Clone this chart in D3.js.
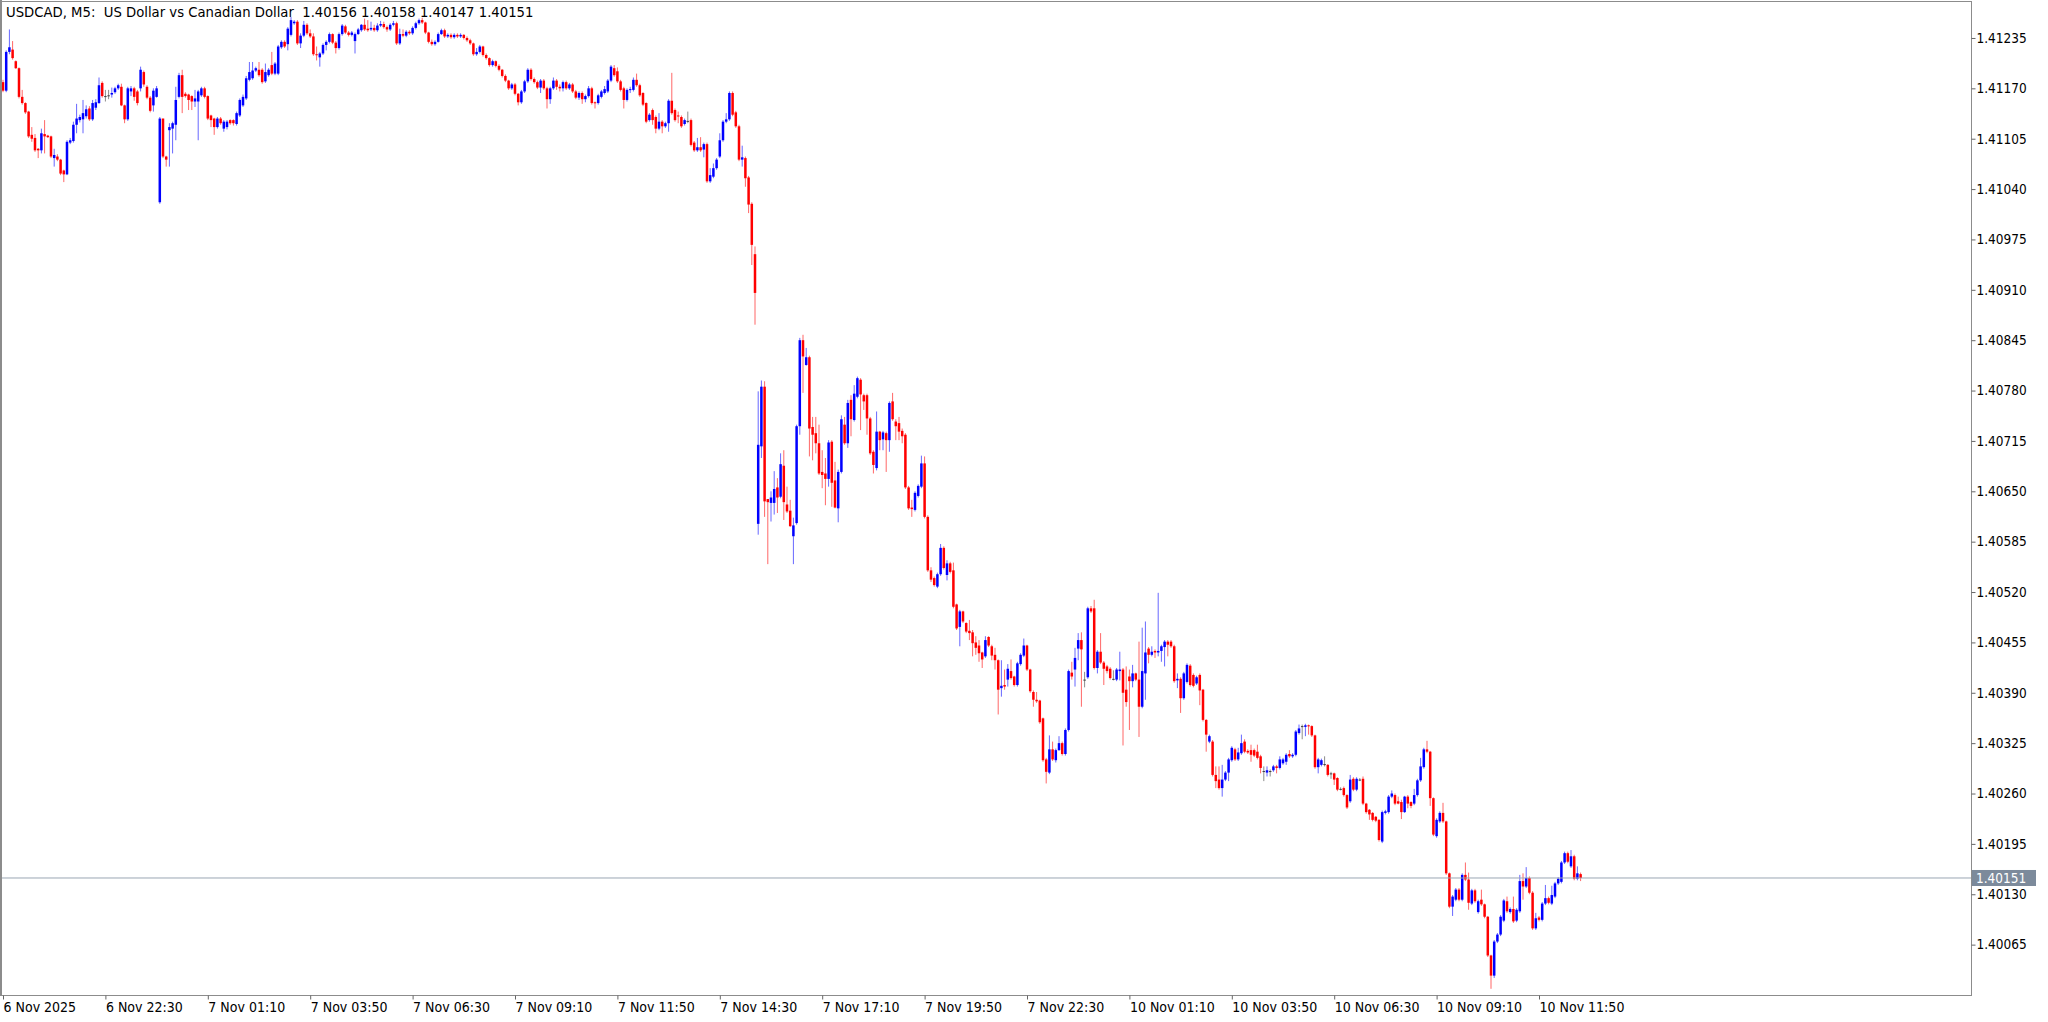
<!DOCTYPE html>
<html><head><meta charset="utf-8">
<script src="https://cdn.jsdelivr.net/npm/d3@7"></script>
<style>html,body{margin:0;padding:0;background:#fff;overflow:hidden}</style>
</head><body><svg id="c" width="2048" height="1022"></svg>
<script>
// USDCAD M5 candles. Values are in points (0.00001) above 1.40000.
const PRICE_BASE = 1.40000, POINT = 0.00001;
const opens = [
1178,1167,1217,1220,1205,1196,1159,1151,1140,1110,1106,1092,1090,1111,1109,1108,1080,1082,1078,1064,
1059,1100,1102,1123,1129,1130,1134,1144,1130,1145,1151,1177,1160,1161,1162,1165,1170,1172,1148,1130,
1166,1170,1166,1170,1191,1172,1158,1148,1159,1023,1131,1082,1116,1118,1123,1159,1187,1163,1162,1160,
1153,1153,1161,1170,1160,1135,1131,1120,1131,1118,1120,1129,1129,1124,1135,1148,1157,1181,1183,1193,
1194,1194,1179,1187,1200,1189,1189,1223,1230,1227,1239,1254,1256,1228,1238,1252,1241,1237,1214,1210,
1215,1226,1230,1240,1229,1222,1240,1250,1242,1239,1231,1240,1245,1252,1247,1246,1248,1245,1251,1253,
1249,1246,1252,1254,1228,1240,1238,1243,1241,1248,1254,1258,1255,1242,1230,1227,1230,1240,1245,1237,
1239,1236,1239,1237,1239,1235,1232,1228,1214,1217,1224,1213,1209,1200,1205,1199,1194,1186,1180,1170,
1175,1163,1152,1166,1179,1194,1182,1178,1171,1180,1170,1156,1170,1180,1172,1170,1178,1170,1175,1166,
1158,1164,1156,1160,1170,1152,1151,1159,1164,1166,1180,1196,1192,1179,1170,1155,1168,1168,1181,1174,
1164,1151,1129,1142,1133,1118,1127,1121,1125,1154,1142,1135,1133,1124,1128,1129,1100,1090,1094,1091,
1098,1050,1056,1067,1082,1103,1127,1130,1164,1139,1121,1078,1080,1055,1021,956,608,708,785,640,
635,635,655,643,683,633,625,592,609,734,845,813,823,733,725,712,675,673,666,714,
664,628,675,736,712,768,742,772,794,774,774,744,701,680,727,717,725,716,766,740,
738,728,723,655,629,626,644,656,686,617,548,538,527,543,577,542,557,548,504,475,
495,480,470,468,455,451,442,437,462,450,439,432,396,400,407,418,411,400,427,438,
451,420,391,381,380,357,304,287,317,303,316,325,311,342,416,420,447,458,407,410,
499,499,422,443,429,424,421,408,407,418,420,394,411,405,415,407,372,415,447,439,
444,442,444,449,456,456,450,406,408,383,404,425,413,402,413,394,355,327,327,284,
278,267,278,287,303,317,304,312,327,315,316,316,314,308,289,287,289,290,295,293,
299,301,311,308,310,338,347,346,348,347,335,294,297,298,297,286,286,280,266,267,
258,250,279,265,278,279,247,239,235,230,226,198,235,236,256,258,250,249,236,256,
249,247,258,277,294,317,314,254,205,224,235,224,157,114,123,136,123,155,149,118,
135,107,123,117,101,51,25,69,78,96,121,107,111,96,108,147,140,151,132,86,
100,97,118,125,118,127,144,146,171,183,166,179,150,156];
const highs = [
1181,1219,1246,1231,1206,1197,1168,1152,1141,1120,1111,1093,1118,1129,1110,1109,1092,1085,1079,1065,
1103,1106,1127,1150,1136,1155,1148,1147,1155,1156,1184,1179,1168,1168,1171,1172,1176,1176,1149,1172,
1173,1172,1168,1198,1193,1174,1160,1170,1173,1133,1131,1083,1125,1127,1172,1190,1194,1165,1163,1161,
1168,1168,1172,1172,1161,1136,1132,1133,1133,1129,1129,1130,1130,1140,1157,1162,1186,1204,1204,1198,
1204,1196,1202,1196,1217,1204,1226,1232,1232,1249,1262,1258,1258,1241,1257,1254,1246,1241,1224,1217,
1228,1232,1242,1241,1231,1242,1253,1252,1244,1244,1242,1248,1253,1260,1258,1256,1252,1254,1257,1256,
1251,1254,1257,1256,1247,1246,1245,1245,1250,1256,1260,1261,1256,1243,1233,1232,1242,1247,1247,1241,
1241,1241,1241,1241,1240,1237,1234,1229,1222,1226,1225,1215,1210,1207,1206,1201,1195,1188,1181,1177,
1177,1164,1168,1181,1196,1196,1184,1180,1182,1182,1172,1172,1184,1182,1175,1180,1180,1177,1177,1168,
1166,1166,1162,1173,1172,1153,1163,1168,1173,1182,1200,1200,1197,1181,1172,1170,1172,1184,1189,1176,
1165,1152,1138,1144,1135,1138,1129,1127,1156,1190,1144,1140,1135,1131,1140,1131,1102,1106,1107,1100,
1100,1067,1073,1080,1112,1129,1138,1166,1166,1141,1123,1096,1082,1057,1023,966,779,793,792,640,
650,676,667,699,703,656,639,616,736,848,852,835,825,746,746,736,703,693,716,716,
688,678,748,746,768,774,787,798,796,776,776,746,703,753,728,728,727,766,777,743,
746,731,725,657,639,650,659,696,695,619,552,540,545,582,579,561,559,558,505,497,
496,481,484,471,463,458,443,463,463,452,448,433,432,420,427,433,412,430,441,460,
452,421,393,391,381,358,306,335,327,318,334,327,344,420,430,448,467,468,417,501,
502,510,445,467,431,426,423,419,422,443,422,424,420,426,416,456,474,482,449,450,
446,519,452,458,458,458,452,415,410,417,428,427,415,412,415,395,356,336,329,295,
295,297,289,306,321,319,319,336,330,317,323,318,323,310,295,295,291,297,297,308,
306,312,316,312,342,349,349,350,349,348,336,306,305,308,298,288,287,281,268,269,
259,284,281,281,280,282,248,240,236,231,227,238,239,258,264,260,256,252,257,258,
250,266,279,306,319,328,315,255,228,237,248,225,158,129,138,138,157,171,158,137,
137,123,136,118,102,52,71,80,103,124,127,113,127,112,155,157,165,153,134,106,
102,120,142,127,141,146,152,173,185,185,187,181,166,158];
const lows = [
1165,1165,1214,1207,1195,1157,1149,1137,1106,1101,1088,1080,1086,1086,1106,1080,1069,1076,1058,1049,
1058,1098,1100,1112,1126,1112,1131,1128,1128,1142,1150,1158,1153,1156,1158,1163,1168,1147,1125,1128,
1160,1154,1148,1166,1172,1156,1139,1140,1158,1021,1080,1069,1069,1086,1103,1157,1138,1158,1142,1142,
1146,1103,1159,1157,1129,1120,1110,1118,1123,1114,1117,1123,1122,1122,1133,1146,1155,1179,1181,1191,
1185,1176,1177,1185,1187,1187,1187,1221,1222,1219,1237,1252,1226,1222,1236,1239,1235,1212,1206,1198,
1213,1219,1228,1227,1215,1220,1238,1240,1237,1237,1215,1239,1243,1244,1243,1244,1243,1243,1249,1247,
1243,1244,1250,1226,1226,1236,1236,1239,1239,1246,1252,1253,1240,1228,1225,1225,1229,1239,1235,1235,
1234,1234,1235,1235,1233,1230,1226,1212,1212,1215,1211,1207,1198,1198,1197,1192,1184,1178,1168,1168,
1161,1148,1150,1164,1177,1180,1176,1169,1164,1168,1144,1150,1168,1168,1166,1166,1168,1168,1164,1156,
1155,1150,1152,1158,1149,1144,1149,1157,1162,1164,1178,1185,1177,1166,1144,1153,1164,1166,1172,1159,
1147,1125,1127,1123,1112,1116,1112,1119,1114,1136,1127,1125,1119,1122,1125,1095,1088,1088,1088,1081,
1048,1048,1054,1065,1080,1101,1125,1128,1134,1119,1076,1069,1043,1009,942,865,594,693,617,556,
611,620,622,641,613,622,604,556,607,723,777,812,695,690,699,671,654,632,656,630,
628,610,673,710,706,721,740,770,729,755,723,697,673,677,703,703,675,701,741,716,
716,712,653,626,617,624,642,654,615,546,533,527,525,541,549,535,544,499,471,450,
480,467,458,437,439,430,422,435,449,432,420,362,385,394,398,407,398,398,425,436,
418,390,372,377,350,301,273,285,302,300,315,309,309,340,407,398,432,372,397,408,
493,420,415,427,400,415,407,406,405,406,322,372,342,397,405,333,370,381,428,437,
435,437,430,424,437,448,403,396,364,381,402,398,397,400,374,353,314,325,282,267,
265,256,276,276,301,302,302,310,312,311,301,307,304,286,276,282,282,288,286,291,
297,297,306,306,308,336,330,334,336,333,292,286,295,295,282,279,271,263,264,256,
240,248,263,263,276,245,234,226,224,223,198,196,233,234,254,245,246,227,235,241,
241,245,256,275,292,312,244,205,203,222,222,155,112,102,121,121,121,147,110,116,
119,105,115,99,49,8,22,67,76,94,106,105,93,94,106,123,138,130,84,84,
95,95,116,117,116,125,142,144,169,170,164,148,148,147];
const closes = [
1167,1217,1223,1209,1196,1159,1151,1139,1108,1105,1090,1090,1112,1108,1107,1082,1084,1078,1060,1059,
1101,1103,1123,1131,1133,1138,1143,1130,1151,1152,1174,1160,1160,1161,1164,1170,1174,1148,1130,1170,
1170,1159,1151,1194,1175,1158,1141,1167,1170,1131,1082,1078,1120,1125,1155,1187,1159,1160,1155,1153,
1157,1166,1170,1159,1131,1129,1120,1131,1125,1127,1127,1125,1125,1138,1155,1159,1183,1191,1193,1196,
1187,1178,1191,1194,1189,1202,1224,1230,1224,1247,1258,1256,1228,1238,1252,1241,1237,1214,1213,1215,
1226,1230,1240,1229,1222,1240,1251,1242,1239,1242,1240,1246,1252,1246,1245,1248,1245,1251,1253,1249,
1246,1252,1254,1228,1240,1238,1243,1241,1248,1254,1258,1255,1242,1230,1227,1230,1240,1245,1237,1239,
1236,1239,1237,1239,1235,1232,1228,1214,1217,1224,1213,1209,1200,1205,1199,1194,1186,1180,1170,1175,
1163,1152,1166,1179,1194,1182,1178,1171,1180,1170,1156,1170,1180,1172,1170,1178,1170,1175,1166,1158,
1164,1156,1160,1170,1151,1151,1161,1166,1169,1180,1198,1187,1179,1168,1155,1168,1169,1181,1174,1161,
1149,1127,1136,1129,1118,1127,1121,1125,1154,1138,1129,1134,1121,1129,1128,1097,1090,1094,1090,1098,
1050,1058,1067,1078,1103,1127,1130,1164,1136,1121,1078,1081,1054,1020,968,906,710,785,637,636,
642,653,642,685,636,624,605,606,734,845,824,823,731,723,712,673,671,666,713,661,
629,675,743,712,764,743,776,796,775,766,744,699,684,727,716,726,716,764,743,734,
727,721,655,628,627,648,657,686,617,548,536,529,543,577,551,557,546,501,473,495,
482,469,467,454,448,441,433,458,451,438,432,394,399,398,421,409,400,428,439,451,
420,392,381,379,352,303,288,317,304,316,325,311,342,418,411,435,458,446,407,499,
495,422,443,429,421,418,409,408,420,420,390,378,405,415,407,372,418,442,439,443,
442,444,450,456,452,450,405,408,383,415,426,400,399,410,393,355,336,334,284,276,
267,278,287,304,319,304,313,325,314,313,310,309,306,293,289,290,289,295,293,304,
304,310,308,310,340,344,347,348,347,335,294,304,303,298,284,286,278,265,266,258,
242,278,265,279,278,247,236,233,226,225,200,236,237,256,260,247,247,236,256,247,
244,258,277,295,317,314,254,207,226,235,224,157,114,127,136,123,155,149,119,135,
121,121,117,101,51,25,69,78,101,122,108,111,95,110,147,140,151,132,86,99,
97,118,125,119,129,144,150,171,183,172,179,150,157,151];

const priceTicks = ["1.41235","1.41170","1.41105","1.41040","1.40975","1.40910","1.40845","1.40780","1.40715",
  "1.40650","1.40585","1.40520","1.40455","1.40390","1.40325","1.40260","1.40195","1.40130","1.40065"];
const timeTickBars = [0,32,64,96,128,160,192,224,256,288,320,352,384,416,448,480];
const timeLabels = ["6 Nov 2025","6 Nov 22:30","7 Nov 01:10","7 Nov 03:50","7 Nov 06:30","7 Nov 09:10",
  "7 Nov 11:50","7 Nov 14:30","7 Nov 17:10","7 Nov 19:50","7 Nov 22:30","10 Nov 01:10","10 Nov 03:50",
  "10 Nov 06:30","10 Nov 09:10","10 Nov 11:50"];
const titleText = "USDCAD, M5:  US Dollar vs Canadian Dollar  1.40156 1.40158 1.40147 1.40151";
const lastPrice = 1.40151;

const FONT = "'DejaVu Sans Condensed','Liberation Sans',Arial,sans-serif";
const svg = d3.select("#c");
const plotRight = 1971, plotBottom = 995;
const price = v => PRICE_BASE + v * POINT;

const x = d3.scaleLinear().domain([0, 480]).range([3, 1539]);
const y = d3.scaleLinear().domain([1.40000, 1.41284]).range([plotBottom, 0]);

const bull = "#0000ff", bear = "#ff0000", doji = "#404040";
const n = closes.length;
const g = svg.append("g");
for (let i = 0; i < n; i++) {
  const o = price(opens[i]), c = price(closes[i]);
  const h = price(Math.max(highs[i], opens[i], closes[i]));
  const l = price(Math.min(lows[i], opens[i], closes[i]));
  const col = c > o ? bull : (c < o ? bear : doji);
  const cx = x(i);
  g.append("line").attr("x1", cx).attr("x2", cx).attr("y1", y(h)).attr("y2", y(l))
    .attr("stroke", col).attr("stroke-width", 1).attr("stroke-opacity", 0.6);
  const top = y(Math.max(o, c)), bot = y(Math.min(o, c));
  g.append("rect").attr("x", cx - 1.25).attr("width", 2.5)
    .attr("y", top).attr("height", Math.max(1, bot - top)).attr("fill", col);
}

// current price line
svg.append("line").attr("x1", 1).attr("x2", plotRight).attr("y1", y(lastPrice)).attr("y2", y(lastPrice))
  .attr("stroke", "#9ba6b4").attr("stroke-width", 1);

// frame
const frame = svg.append("g").attr("stroke", "#8c8c8c").attr("fill", "none");
frame.append("line").attr("x1", 0).attr("x2", plotRight).attr("y1", 1.5).attr("y2", 1.5);
frame.append("line").attr("x1", 1).attr("x2", 1).attr("y1", 0).attr("y2", plotBottom).attr("stroke-width", 2);
frame.append("line").attr("x1", plotRight + 0.5).attr("x2", plotRight + 0.5).attr("y1", 1).attr("y2", plotBottom + 1);
frame.append("line").attr("x1", 0).attr("x2", plotRight + 1).attr("y1", plotBottom + 0.5).attr("y2", plotBottom + 0.5);

// right price axis
const ya = svg.append("g").attr("transform", `translate(${plotRight + 0.5},0)`)
  .call(d3.axisRight(y).tickValues(priceTicks.map(Number)).tickFormat((d, k) => priceTicks[k])
    .tickSize(4).tickPadding(1).tickSizeOuter(0));
ya.select(".domain").remove();
ya.selectAll("line").attr("stroke", "#666");
ya.selectAll("text").attr("fill", "#000").style("font-family", FONT).style("font-size", "13.5px");

// bottom time axis
const xa = svg.append("g").attr("transform", `translate(0,${plotBottom + 0.5})`)
  .call(d3.axisBottom(x).tickValues(timeTickBars).tickFormat((d, k) => timeLabels[k])
    .tickSize(4).tickPadding(3).tickSizeOuter(0));
xa.select(".domain").remove();
xa.selectAll("line").attr("stroke", "#666");
xa.selectAll("text").attr("fill", "#000").attr("text-anchor", "start").attr("x", 0)
  .style("font-family", FONT).style("font-size", "14px");

// last price label
const ly = y(lastPrice);
svg.append("rect").attr("x", plotRight + 1).attr("y", ly - 8).attr("width", 64).attr("height", 16).attr("fill", "#7c8a9b");
svg.append("text").attr("x", plotRight + 5).attr("y", ly + 5).text(lastPrice.toFixed(5))
  .attr("fill", "#fff").style("font-family", FONT).style("font-size", "13.5px");

// title
svg.append("text").attr("x", 6).attr("y", 17).text(titleText).attr("xml:space", "preserve")
  .style("white-space", "pre").attr("fill", "#000").style("font-family", FONT).style("font-size", "14.7px");
</script>
</body></html>
